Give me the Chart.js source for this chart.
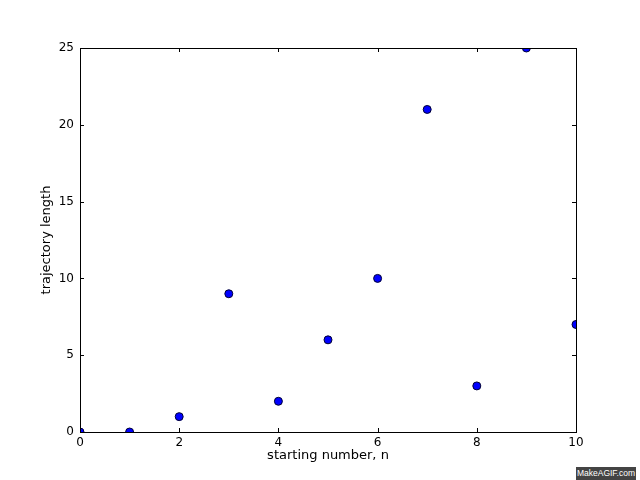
<!DOCTYPE html>
<html>
<head>
<meta charset="utf-8">
<script src="https://cdn.jsdelivr.net/npm/chart.js@4"></script>
<style>
  html, body { margin: 0; padding: 0; background: #fff; }
  #wrap { position: relative; width: 640px; height: 480px; }
  #badge {
    position: absolute; left: 576px; top: 467px; width: 60px; height: 13px;
    background: #444; color: #fff; text-align: center; overflow: hidden;
    font: 8.5px "Liberation Sans", sans-serif; line-height: 13px;
  }
</style>
</head>
<body>
<div id="wrap">
  <canvas id="plot" width="640" height="480"></canvas>
  <div id="badge">MakeAGIF.com</div>
</div>
<script>
// データ
const startN = [0, 1, 2, 3, 4, 5, 6, 7, 8, 9, 10];
const trajLen = [0, 0, 1, 9, 2, 6, 10, 21, 3, 25, 7];
const xTicks = [0, 2, 4, 6, 8, 10];
const yTicks = [0, 5, 10, 15, 20, 25];

const TICKFONT = { family: 'DejaVu Sans', size: 12 };
const TITLEFONT = { family: 'DejaVu Sans', size: 13 };

// 枠と内向きの目盛り (matplotlib風)
const frame = {
  id: 'frame',
  afterDatasetsDraw(chart) {
    const ctx = chart.ctx, a = chart.chartArea;
    const xs = chart.scales.x, ys = chart.scales.y;
    ctx.save();
    ctx.strokeStyle = '#000';
    ctx.lineWidth = 1;
    ctx.beginPath();
    xTicks.forEach(function(v) {
      const px = Math.round(xs.getPixelForValue(v)) + 0.5;
      ctx.moveTo(px, a.bottom); ctx.lineTo(px, a.bottom - 4);
      ctx.moveTo(px, a.top); ctx.lineTo(px, a.top + 4);
    });
    yTicks.forEach(function(v) {
      const py = Math.round(ys.getPixelForValue(v)) + 0.5;
      ctx.moveTo(a.left, py); ctx.lineTo(a.left + 4, py);
      ctx.moveTo(a.right, py); ctx.lineTo(a.right - 4, py);
    });
    ctx.stroke();
    ctx.strokeRect(a.left + 0.5, a.top + 0.5, a.right - a.left, a.bottom - a.top);
    ctx.restore();
  }
};

const pts = startN.map(function(n, i) { return { x: n, y: trajLen[i] }; });

new Chart(document.getElementById('plot'), {
  type: 'scatter',
  data: {
    datasets: [{
      data: pts,
      backgroundColor: '#0000ff',
      borderColor: '#000033',
      borderWidth: 1,
      pointRadius: 4,
      clip: 0
    }]
  },
  options: {
    responsive: false,
    animation: false,
    layout: { padding: { top: 48, right: 64, left: 0, bottom: 0 } },
    plugins: { legend: { display: false }, tooltip: { enabled: false } },
    scales: {
      x: {
        type: 'linear', min: 0, max: 10,
        afterFit: function(s) { s.height = 48; },
        afterBuildTicks: function(s) { s.ticks = xTicks.map(function(v) { return { value: v }; }); },
        grid: { display: false, drawTicks: false },
        border: { display: false },
        ticks: { color: '#000', font: TICKFONT, padding: 4, maxRotation: 0 },
        title: { display: true, text: 'starting number, n', color: '#000', font: TITLEFONT, padding: { top: 2, bottom: 17 } }
      },
      y: {
        type: 'linear', min: 0, max: 25,
        afterFit: function(s) { s.width = 80; },
        afterBuildTicks: function(s) { s.ticks = yTicks.map(function(v) { return { value: v }; }); },
        grid: { display: false, drawTicks: false },
        border: { display: false },
        ticks: { color: '#000', font: TICKFONT, padding: 6 },
        title: { display: true, text: 'trajectory length', color: '#000', font: TITLEFONT, padding: { top: 39, bottom: 0 } }
      }
    }
  },
  plugins: [frame]
});
</script>
</body>
</html>
